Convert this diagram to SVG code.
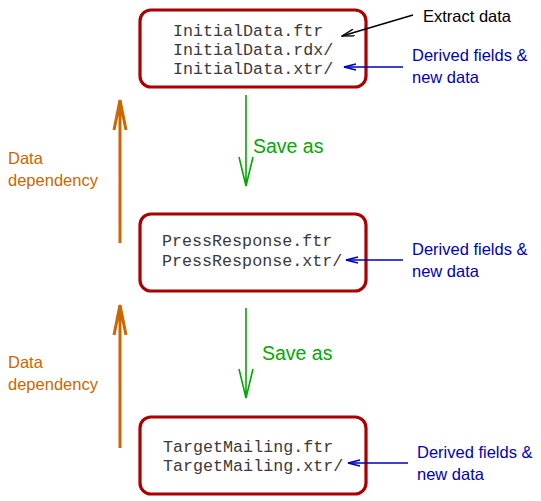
<svg xmlns="http://www.w3.org/2000/svg" width="541" height="501" viewBox="0 0 541 501">
<style>
.box{fill:#fff;stroke:#aa0000;stroke-width:3.2}
.mono{font-family:"Liberation Mono",monospace;font-size:16.7px;fill:#3a3a3a}
.sans{font-family:"Liberation Sans",Arial,sans-serif;font-size:16.5px}
.blue{fill:#0000bb}
.green{fill:#00aa00}
.orange{fill:#cc6600}
.blk{fill:#000}
</style>
<defs>
<marker id="mb" markerWidth="14" markerHeight="8" refX="13" refY="4" orient="auto" markerUnits="userSpaceOnUse" viewBox="0 0 14 8">
<path d="M1,1 L13,4 L1,7" fill="none" stroke="#0000bb" stroke-width="1.3"/>
</marker>
<marker id="mk" markerWidth="14" markerHeight="8" refX="13" refY="4" orient="auto" markerUnits="userSpaceOnUse" viewBox="0 0 14 8">
<path d="M0.5,0.5 L13,4 L0.5,7.5" fill="none" stroke="#000" stroke-width="1.3"/>
</marker>
</defs>
<g id="initial">
<rect class="box" x="140" y="10" width="226" height="77" rx="11"/>
<text class="mono" x="173" y="36">InitialData.ftr</text>
<text class="mono" x="173" y="55">InitialData.rdx/</text>
<text class="mono" x="173" y="74">InitialData.xtr/</text>
</g>
<g id="press">
<rect class="box" x="140" y="214" width="226" height="77" rx="11"/>
<text class="mono" x="162" y="246">PressResponse.ftr</text>
<text class="mono" x="162" y="266">PressResponse.xtr/</text>
</g>
<g id="target">
<rect class="box" x="140" y="417" width="226" height="77" rx="11"/>
<text class="mono" x="163" y="452">TargetMailing.ftr</text>
<text class="mono" x="163" y="471">TargetMailing.xtr/</text>
</g>
<g id="connectors">
<g fill="none" stroke="#00aa00" stroke-width="1.6">
<path d="M246,95 V186 M239,157 L246,186 L253,157"/>
<path d="M246,308 V398 M239,369 L246,398 L253,369"/>
</g>
<g fill="none" stroke="#cc6600" stroke-width="3">
<path d="M120,243 V100 M114,130 L120,100 L126,130"/>
<path d="M120,448 V305 M114,335 L120,305 L126,335"/>
</g>
<line x1="413" y1="15" x2="342" y2="36" stroke="#000" stroke-width="1.5" marker-end="url(#mk)"/>
<line x1="403" y1="67" x2="344" y2="67" stroke="#0000bb" stroke-width="1.5" marker-end="url(#mb)"/>
<line x1="403" y1="260" x2="346" y2="260" stroke="#0000bb" stroke-width="1.5" marker-end="url(#mb)"/>
<line x1="408" y1="463" x2="348" y2="463" stroke="#0000bb" stroke-width="1.5" marker-end="url(#mb)"/>
</g>
<g id="labels">
<text class="sans blk" x="423" y="22">Extract data</text>
<text class="sans blue" x="412" y="61">Derived fields &amp;</text>
<text class="sans blue" x="412" y="83">new data</text>
<text class="sans blue" x="412" y="255">Derived fields &amp;</text>
<text class="sans blue" x="412" y="277">new data</text>
<text class="sans blue" x="417" y="458">Derived fields &amp;</text>
<text class="sans blue" x="417" y="480">new data</text>
<text class="sans green" x="253" y="153" style="font-size:19.5px">Save as</text>
<text class="sans green" x="262" y="360" style="font-size:19.5px">Save as</text>
<text class="sans orange" x="8" y="164">Data</text>
<text class="sans orange" x="8" y="186">dependency</text>
<text class="sans orange" x="8" y="368">Data</text>
<text class="sans orange" x="8" y="390">dependency</text>
</g>
</svg>
